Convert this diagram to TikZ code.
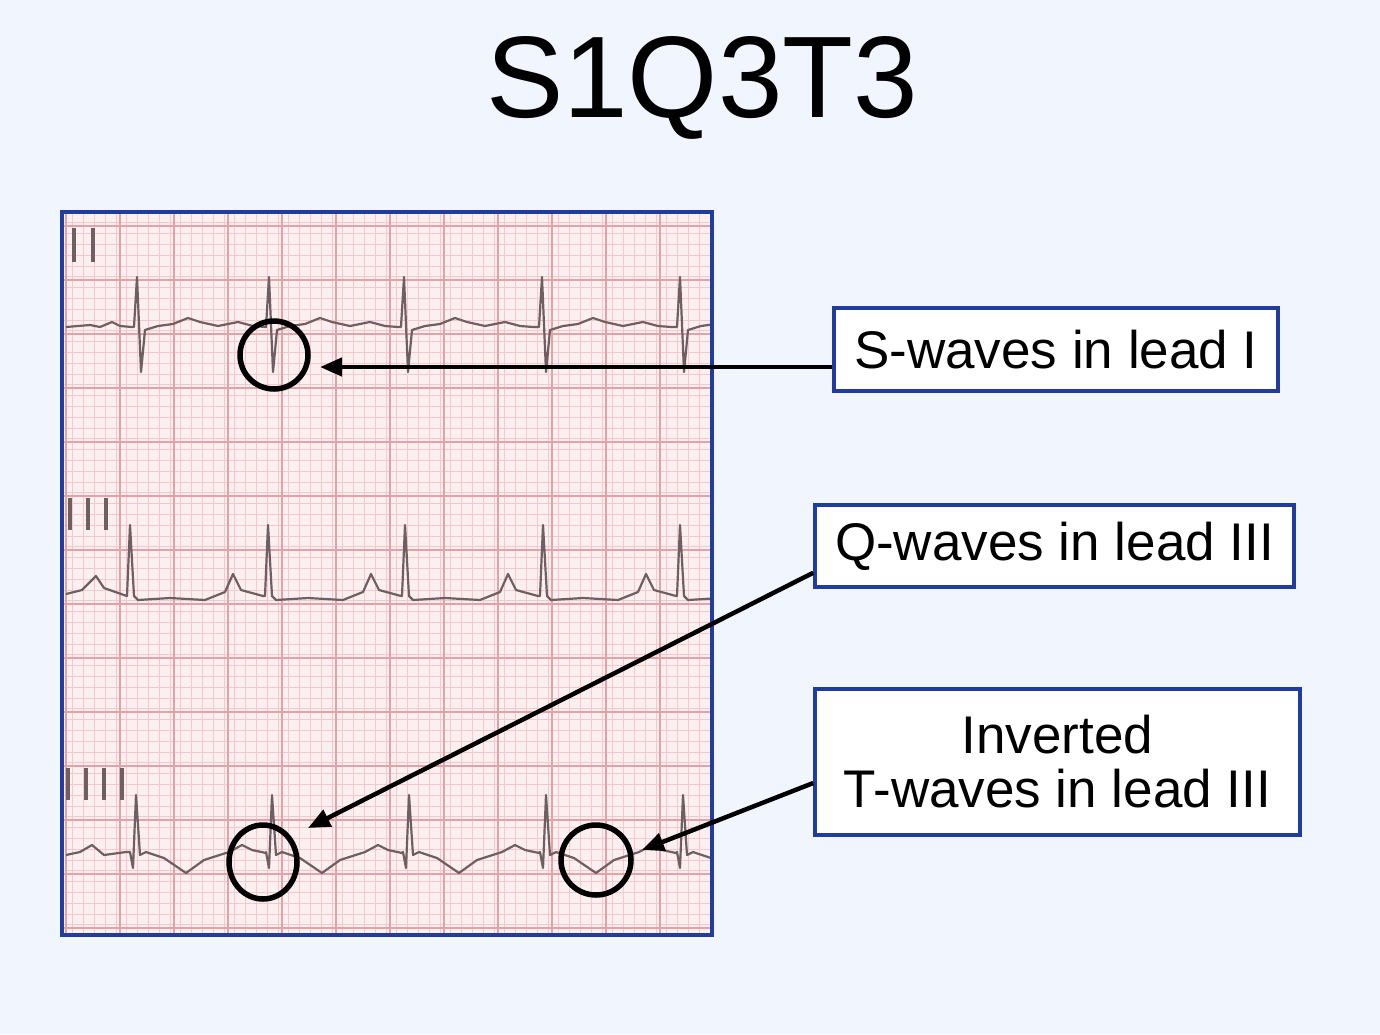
\documentclass[tikz,border=0pt]{standalone}
\usepackage{fontspec}
\setmainfont{Liberation Sans}
\usetikzlibrary{arrows.meta}
\definecolor{bg}{HTML}{F1F5FE}
\definecolor{panel}{HTML}{FCEFF0}
\definecolor{minorg}{HTML}{F3C9CD}
\definecolor{majorg}{HTML}{E2A2A8}
\definecolor{frame}{HTML}{1F3C9E}
\definecolor{trace}{HTML}{6E5F62}
\tikzset{
  lbl/.style={draw=frame,line width=3.5pt,fill=white,font=\fontsize{53}{60}\selectfont,align=center,inner sep=0pt},
  ring/.style={draw=black,line width=5.5pt},
  pointer/.style={line width=4.5pt,-{Triangle[length=22pt,width=18pt]}},
  ecg/.style={trace,line width=2.2pt,line join=round}
}
\begin{document}
\begin{tikzpicture}[x=1pt,y=-1pt]
\fill[bg] (0,0) rectangle (1380,1034);
\useasboundingbox (0,0) rectangle (1380,1034);
\node (title) at (702,88) {\fontsize{116}{120}\selectfont S1Q3T3};
% panel
\fill[panel] (62,212) rectangle (712,935);
\begin{scope}
\clip (62,212) rectangle (712,935);
\foreach \i in {0,...,62} {\draw[minorg,line width=1pt] (62+\i*10.8,212) -- (62+\i*10.8,935);}
\foreach \i in {0,...,68} {\draw[minorg,line width=1pt] (62,212+\i*10.8) -- (712,212+\i*10.8);}
\foreach \i in {0,...,12} {\draw[majorg,line width=1.8pt] (66+\i*54,212) -- (66+\i*54,935);}
\foreach \i in {0,...,13} {\draw[majorg,line width=1.8pt] (62,226+\i*54) -- (712,226+\i*54);}
% lead markers
\draw[trace,line width=4pt] (74,228) -- (74,262) (93,228) -- (93,262);
\draw[trace,line width=4pt] (70,498) -- (70,530) (88,498) -- (88,530) (106,498) -- (106,530);
\draw[trace,line width=4pt] (68,768) -- (68,800) (86,768) -- (86,800) (104,768) -- (104,800) (122,768) -- (122,800);
% lead I
\draw[ecg] (66,327) -- (90,325) -- (100,327) -- (112,322) -- (120,326) -- (132,327)
  \foreach \c in {138,270,405,543,681} {
   -- (\c-4,327) -- (\c-1,277) -- (\c+3,372) -- (\c+7,330) -- (\c+20,326) -- (\c+35,324) -- (\c+50,318) -- (\c+62,322) -- (\c+80,326) -- (\c+100,322) -- (\c+115,326) -- (\c+128,327)}
  -- (712,327);
% lead II
\draw[ecg] (66,594) -- (82,590) -- (96,576) -- (104,588) -- (124,595)
  \foreach \c in {130,268,405,543,680} {
   -- (\c-3,596) -- (\c,525) -- (\c+4,596) -- (\c+8,600) -- (\c+40,598) -- (\c+75,600) -- (\c+95,592) -- (\c+103,574) -- (\c+111,590) -- (\c+133,596)}
  -- (712,596);
% lead III
\draw[ecg] (66,855) -- (80,852) -- (92,845) -- (104,855) -- (126,852)
  \foreach \c in {134,270,407,544,681} {
   -- (\c-4,852) -- (\c-1,868) -- (\c+2,795) -- (\c+6,855) -- (\c+12,852) -- (\c+30,858) -- (\c+52,873) -- (\c+70,860) -- (\c+95,852) -- (\c+108,845) -- (\c+118,850) -- (\c+132,853)}
  -- (712,853);
\end{scope}
\draw[frame,line width=4pt] (62,212) rectangle (712,935);
% circles
\draw[ring] (274,355) circle[radius=34];
\draw[ring] (263,862) ellipse[x radius=34,y radius=37];
\draw[ring] (596,860) circle[radius=35];
% boxes
\node[lbl,minimum width=444,minimum height=83] (s) at (1056,349.5) {S-waves in lead I};
\node[lbl,minimum width=479,minimum height=82] (q) at (1054.5,546) {Q-waves in lead III};
\node[lbl,minimum width=485,minimum height=146] (t) at (1057.5,762) {Inverted\\[-6pt]T-waves in lead III};
\coordinate (sa) at (320,367);
\coordinate (qa) at (308,828);
\coordinate (ta) at (642,850);
\draw[pointer] (s.west |- sa) -- (sa);
\draw[pointer] ([yshift=16]q.south west) -- (qa);
\draw[pointer] ([yshift=-21]t.west) -- (ta);
\end{tikzpicture}
\end{document}
